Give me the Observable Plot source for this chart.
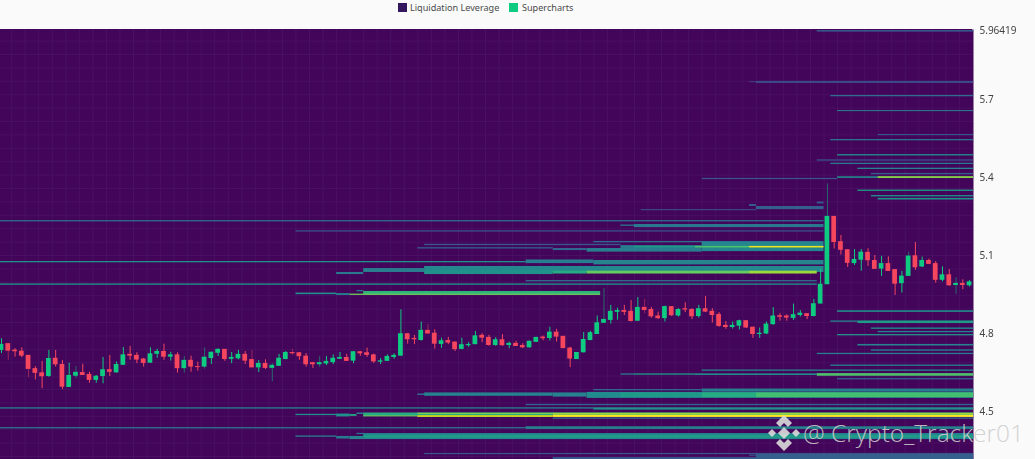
<!DOCTYPE html>
<html>
<head>
<meta charset="utf-8">
<script src="https://cdn.jsdelivr.net/npm/d3@7"></script>
<script src="https://cdn.jsdelivr.net/npm/@observablehq/plot@0.6"></script>
<style>
html,body{margin:0;padding:0;background:#fafafa;width:1035px;height:459px;overflow:hidden;position:relative}
#legend{height:29px;position:relative;font:9.1px "Noto Sans",sans-serif;color:#4a4a4a}
#legend i{position:absolute;top:3px;width:9px;height:9px;display:block}
#legend span{position:absolute;top:0;line-height:15px;white-space:nowrap}
#chart{height:430px;background:linear-gradient(to right,#42055a 0,#42055a 972px,transparent 972px)}
#chart svg{display:block;overflow:visible;background:transparent;filter:blur(.35px)}
#wm{position:absolute;left:768px;top:413px;width:34px;height:40px;pointer-events:none}
#wmt{position:absolute;left:803px;top:420px;font:300 24.5px/25px "Open Sans",sans-serif;letter-spacing:0;color:rgba(205,205,205,.9);white-space:nowrap}
</style>
</head>
<body>
<div id="legend">
<i style="left:398px;background:#33185f"></i><span style="left:410px">Liquidation Leverage</span>
<i style="left:509px;background:#0ecb81"></i><span style="left:522px">Supercharts</span>
</div>
<div id="chart"></div>
<svg id="wm" viewBox="0 0 34 40"><g fill="rgba(220,220,220,.9)">
<polygon points="16,2 24,10 20,14 16,10 12,14 8,10"/>
<polygon points="16,38 24,30 20,26 16,30 12,26 8,30"/>
<polygon points="16,14 22,20 16,26 10,20"/>
<polygon points="4,16 8,20 4,24 0,20"/>
<polygon points="28,16 32,20 28,24 24,20"/>
</g></svg>
<div id="wmt">@ Crypto_Tracker01</div>
<script>
const opens=[4.737,4.763,4.738,4.734,4.718,4.667,4.651,4.637,4.707,4.683,
4.595,4.638,4.652,4.645,4.622,4.637,4.663,4.651,4.680,4.722,
4.718,4.704,4.688,4.722,4.733,4.711,4.720,4.667,4.699,4.675,
4.673,4.706,4.726,4.741,4.703,4.705,4.722,4.702,4.670,4.687,
4.668,4.676,4.702,4.729,4.728,4.715,4.690,4.682,4.685,4.690,
4.703,4.710,4.696,4.732,4.728,4.720,4.692,4.695,4.710,4.715,
4.801,4.783,4.775,4.814,4.803,4.760,4.775,4.769,4.741,4.755,
4.759,4.795,4.787,4.756,4.778,4.756,4.764,4.756,4.747,4.768,
4.788,4.783,4.807,4.791,4.746,4.702,4.728,4.775,4.798,4.841,
4.852,4.883,4.890,4.887,4.849,4.902,4.894,4.869,4.859,4.905,
4.869,4.897,4.894,4.867,4.897,4.887,4.875,4.833,4.825,4.830,
4.851,4.826,4.798,4.800,4.836,4.870,4.869,4.860,4.871,4.878,
4.867,4.915,4.989,5.251,5.154,5.123,5.070,5.083,5.113,5.082,
5.049,5.070,5.047,4.993,5.021,5.100,5.057,5.082,5.070,5.006,
5.027,4.986,4.994,4.985];
const closes=[4.760,4.734,4.732,4.715,4.664,4.649,4.636,4.706,4.682,4.596,
4.641,4.653,4.641,4.622,4.638,4.663,4.653,4.683,4.720,4.715,
4.700,4.687,4.724,4.733,4.711,4.720,4.667,4.699,4.673,4.671,
4.711,4.730,4.741,4.702,4.710,4.722,4.696,4.670,4.687,4.668,
4.680,4.707,4.729,4.724,4.713,4.682,4.682,4.690,4.695,4.707,
4.710,4.695,4.732,4.724,4.718,4.693,4.697,4.714,4.718,4.801,
4.778,4.778,4.814,4.800,4.761,4.774,4.765,4.740,4.759,4.760,
4.793,4.784,4.756,4.778,4.755,4.764,4.752,4.747,4.772,4.787,
4.782,4.807,4.788,4.744,4.704,4.729,4.779,4.805,4.843,4.856,
4.887,4.890,4.883,4.848,4.902,4.890,4.866,4.859,4.905,4.870,
4.894,4.892,4.866,4.897,4.884,4.871,4.829,4.825,4.833,4.851,
4.823,4.798,4.803,4.838,4.869,4.864,4.861,4.874,4.880,4.867,
4.916,4.991,5.251,5.151,5.121,5.071,5.086,5.114,5.081,5.048,
5.070,5.040,4.991,5.022,5.099,5.054,5.082,5.067,5.006,5.027,
4.985,4.994,4.986,5.000];
const highs=[4.782,4.763,4.744,4.747,4.718,4.675,4.695,4.737,4.737,4.698,
4.688,4.675,4.684,4.653,4.641,4.710,4.718,4.693,4.748,4.752,
4.728,4.706,4.747,4.741,4.761,4.730,4.728,4.714,4.715,4.692,
4.747,4.730,4.743,4.741,4.729,4.737,4.733,4.737,4.698,4.701,
4.686,4.722,4.733,4.741,4.728,4.725,4.691,4.713,4.714,4.720,
4.729,4.722,4.732,4.732,4.746,4.723,4.706,4.720,4.724,4.893,
4.801,4.795,4.846,4.837,4.816,4.784,4.787,4.769,4.784,4.767,
4.810,4.801,4.795,4.786,4.798,4.769,4.772,4.763,4.773,4.787,
4.792,4.826,4.818,4.791,4.749,4.729,4.806,4.810,4.869,4.974,
4.910,4.899,4.910,4.929,4.940,4.933,4.902,4.884,4.907,4.905,
4.897,4.920,4.897,4.910,4.944,4.897,4.882,4.848,4.846,4.853,
4.852,4.826,4.823,4.846,4.901,4.878,4.874,4.915,4.890,4.878,
4.933,5.048,5.376,5.251,5.178,5.123,5.124,5.124,5.127,5.101,
5.098,5.096,5.047,5.040,5.114,5.151,5.095,5.087,5.078,5.058,
5.047,5.016,5.008,5.005];
const lows=[4.725,4.699,4.711,4.709,4.632,4.624,4.590,4.634,4.673,4.587,
4.595,4.628,4.641,4.611,4.611,4.609,4.637,4.650,4.679,4.699,
4.686,4.673,4.688,4.707,4.699,4.696,4.650,4.650,4.653,4.657,
4.665,4.683,4.714,4.695,4.686,4.701,4.683,4.670,4.652,4.664,
4.617,4.676,4.701,4.718,4.699,4.673,4.668,4.671,4.679,4.683,
4.703,4.695,4.686,4.714,4.710,4.687,4.683,4.695,4.703,4.715,
4.761,4.759,4.773,4.800,4.742,4.745,4.759,4.733,4.740,4.749,
4.759,4.767,4.753,4.753,4.753,4.744,4.752,4.744,4.746,4.768,
4.774,4.773,4.769,4.744,4.671,4.702,4.727,4.774,4.798,4.841,
4.838,4.853,4.871,4.846,4.849,4.878,4.861,4.855,4.846,4.867,
4.865,4.882,4.855,4.861,4.882,4.842,4.826,4.818,4.819,4.815,
4.821,4.783,4.783,4.798,4.833,4.849,4.849,4.852,4.865,4.855,
4.866,4.915,4.989,5.126,5.103,5.055,5.063,5.041,5.059,5.048,
5.021,5.040,4.948,4.957,5.021,5.044,5.055,5.066,4.995,5.000,
4.983,4.952,4.970,4.980];
const dimWicks=[1,4,11,27,30,37,40,43,47,63,89,95,122,134,141];

const S=-0.15, E=143.6;
const bandFrom=[120.5,110.5,111.5,122.5,123.5,129.5,122.5,123.5,120.5,122.5,126.5,128.5,103.5,123.5,129.5,126.5,128.5,129.5,
120.5,110.5,111.5,94.5,S,91.5,93.5,43.5,87.5,103.5,91.5,93.5,102.5,110.5,86.5,81.5,62.5,61.5,
S,77.5,87.5,49.5,53.5,62.5,62.5,81.5,86.5,110.5,S,77.5,43.5,49.5,52.5,53.5,51.5,
123.5,122.5,126.5,128.5,129.5,123.5,126.5,128.5,120.5,122.5,103.5,102.5,120.5,123.5,91.5,93.5,
87.5,103.5,61.5,62.5,81.5,86.5,91.5,103.5,111.5,77.5,S,87.5,
43.5,49.5,51.5,52.5,53.5,53.5,61.5,61.5,81.5,81.5,81.5,S,77.5,52.5,53.5,53.5,43.5,49.5,51.5,62.5,81.5,111.5,110.5];
const bandTo=[E,111.5,E,E,E,E,E,E,E,E,E,E,123.5,E,E,E,E,E,
121.5,111.5,121.5,111.5,121.5,93.5,121.5,121.5,121.5,121.5,103.5,102.5,110.5,121.5,103.5,86.5,91.5,81.5,
77.5,87.5,121.5,53.5,62.5,121.5,81.5,86.5,110.5,120.5,120.5,120.5,49.5,51.5,53.5,88.5,88.5,
E,126.5,E,E,E,E,E,E,E,E,E,120.5,E,E,93.5,102.5,
103.5,E,62.5,81.5,86.5,E,103.5,111.5,E,E,87.5,E,
49.5,51.5,52.5,53.5,E,61.5,81.5,81.5,E,E,E,77.5,E,53.5,E,E,49.5,51.5,53.5,E,E,E,111.5];
const bandHigh=[5.964,5.768,5.769,5.715,5.657,5.565,5.546,5.488,5.468,5.455,5.436,5.416,5.397,5.403,5.403,5.352,5.331,5.320,
5.306,5.297,5.289,5.277,5.235,5.218,5.220,5.196,5.155,5.152,5.139,5.136,5.136,5.136,5.128,5.128,5.144,5.131,
5.078,5.084,5.082,5.036,5.051,5.059,5.044,5.041,5.041,5.041,4.992,5.005,4.957,4.955,4.967,4.963,4.953,
4.889,4.850,4.850,4.823,4.810,4.798,4.760,4.739,4.726,4.681,4.662,4.647,4.648,4.629,4.647,4.647,
4.587,4.589,4.570,4.574,4.574,4.576,4.574,4.574,4.574,4.530,4.517,4.517,
4.492,4.493,4.491,4.497,4.497,4.487,4.496,4.487,4.496,4.488,4.478,4.441,4.444,4.419,4.418,4.409,4.409,4.407,4.407,4.342,4.326,4.338,4.336];
const bandLow=[5.958,5.764,5.761,5.710,5.653,5.561,5.541,5.483,5.463,5.450,5.431,5.411,5.392,5.397,5.397,5.347,5.326,5.314,
5.299,5.289,5.277,5.273,5.230,5.213,5.208,5.191,5.150,5.116,5.128,5.130,5.130,5.130,5.114,5.120,5.139,5.126,
5.073,5.070,5.065,5.028,5.036,5.036,5.028,5.030,5.030,5.030,4.987,5.000,4.951,4.948,4.962,4.951,4.948,
4.883,4.845,4.840,4.818,4.805,4.793,4.754,4.734,4.721,4.676,4.657,4.641,4.638,4.624,4.642,4.642,
4.582,4.577,4.564,4.561,4.558,4.553,4.556,4.556,4.556,4.525,4.512,4.508,
4.487,4.482,4.484,4.491,4.487,4.482,4.491,4.480,4.489,4.480,4.473,4.436,4.434,4.414,4.395,4.401,4.404,4.397,4.395,4.337,4.318,4.318,4.331];
const bandHeat=[.28,.18,.22,.35,.42,.3,.38,.5,.25,.4,.45,.3,.25,.5,.85,.55,.5,.5,
.3,.28,.3,.25,.35,.4,.4,.25,.35,.46,.42,.55,.72,.97,.42,.33,.27,.3,
.5,.42,.45,.4,.42,.47,.5,.62,.76,.85,.52,.35,.5,.45,.4,.65,.78,
.5,.45,.55,.5,.45,.5,.45,.45,.42,.45,.45,.5,.72,.3,.4,.55,
.35,.42,.35,.44,.44,.48,.54,.62,.7,.32,.44,.5,
.5,.5,.6,.4,.62,.75,.8,.92,.85,1,.35,.4,.45,.35,.47,.56,.42,.4,.45,.25,.28,.3,.25];

const yTicks=[4.5,4.8,5.1,5.4,5.7,5.96419];

const candles=opens.map((o,i)=>({i,o,c:closes[i],h:highs[i],l:lows[i],dim:dimWicks.includes(i)}));
const up=candles.filter(d=>d.c>=d.o), down=candles.filter(d=>d.c<d.o);
const bands=bandFrom.map((f,k)=>({f,t:bandTo[k],hi:bandHigh[k],lo:bandLow[k],heat:bandHeat[k]}));
const GREEN="#0ecb81", RED="#f6465d", BG="#42055a", GRID="#4a1064";
const wick=(rows,col)=>[
  Plot.ruleX(rows.filter(d=>!d.dim),{x:"i",y1:"l",y2:"h",stroke:col,strokeWidth:1}),
  Plot.ruleX(rows.filter(d=>d.dim),{x:"i",y1:"l",y2:"h",stroke:col,strokeWidth:1,strokeOpacity:.5})
];
const body=(rows,col)=>Plot.rect(rows,{x1:d=>d.i-.35,x2:d=>d.i+.35,y1:"o",y2:"c",fill:col});

const plot=Plot.plot({
  width:1035,height:430,
  marginLeft:0,marginRight:62,marginTop:0,marginBottom:0,
  style:{background:"transparent"},
  x:{type:"linear",domain:[-0.148,143.58],axis:null},
  y:{domain:[4.3186,5.968],axis:null},
  color:{type:"linear",scheme:"viridis",domain:[0,1]},
  marks:[
    Plot.frame({fill:BG,stroke:null}),
    Plot.ruleX(d3.range(1.5,143,2),{stroke:GRID,strokeWidth:1}),
    Plot.ruleY(d3.range(4.33,5.95,.0514),{stroke:GRID,strokeWidth:1}),
    Plot.rect(bands,{x1:"f",x2:"t",y1:"lo",y2:"hi",fill:"heat"}),
    ...wick(up,GREEN),...wick(down,RED),
    body(up,GREEN),body(down,RED),
    Plot.axisY(yTicks,{anchor:"right",tickSize:0,tickPadding:6,label:null,tickFormat:d=>String(d),fontSize:10,fill:"#444",fontFamily:"'Noto Sans',sans-serif"})
  ]
});
document.getElementById("chart").appendChild(plot);
</script>
</body>
</html>
